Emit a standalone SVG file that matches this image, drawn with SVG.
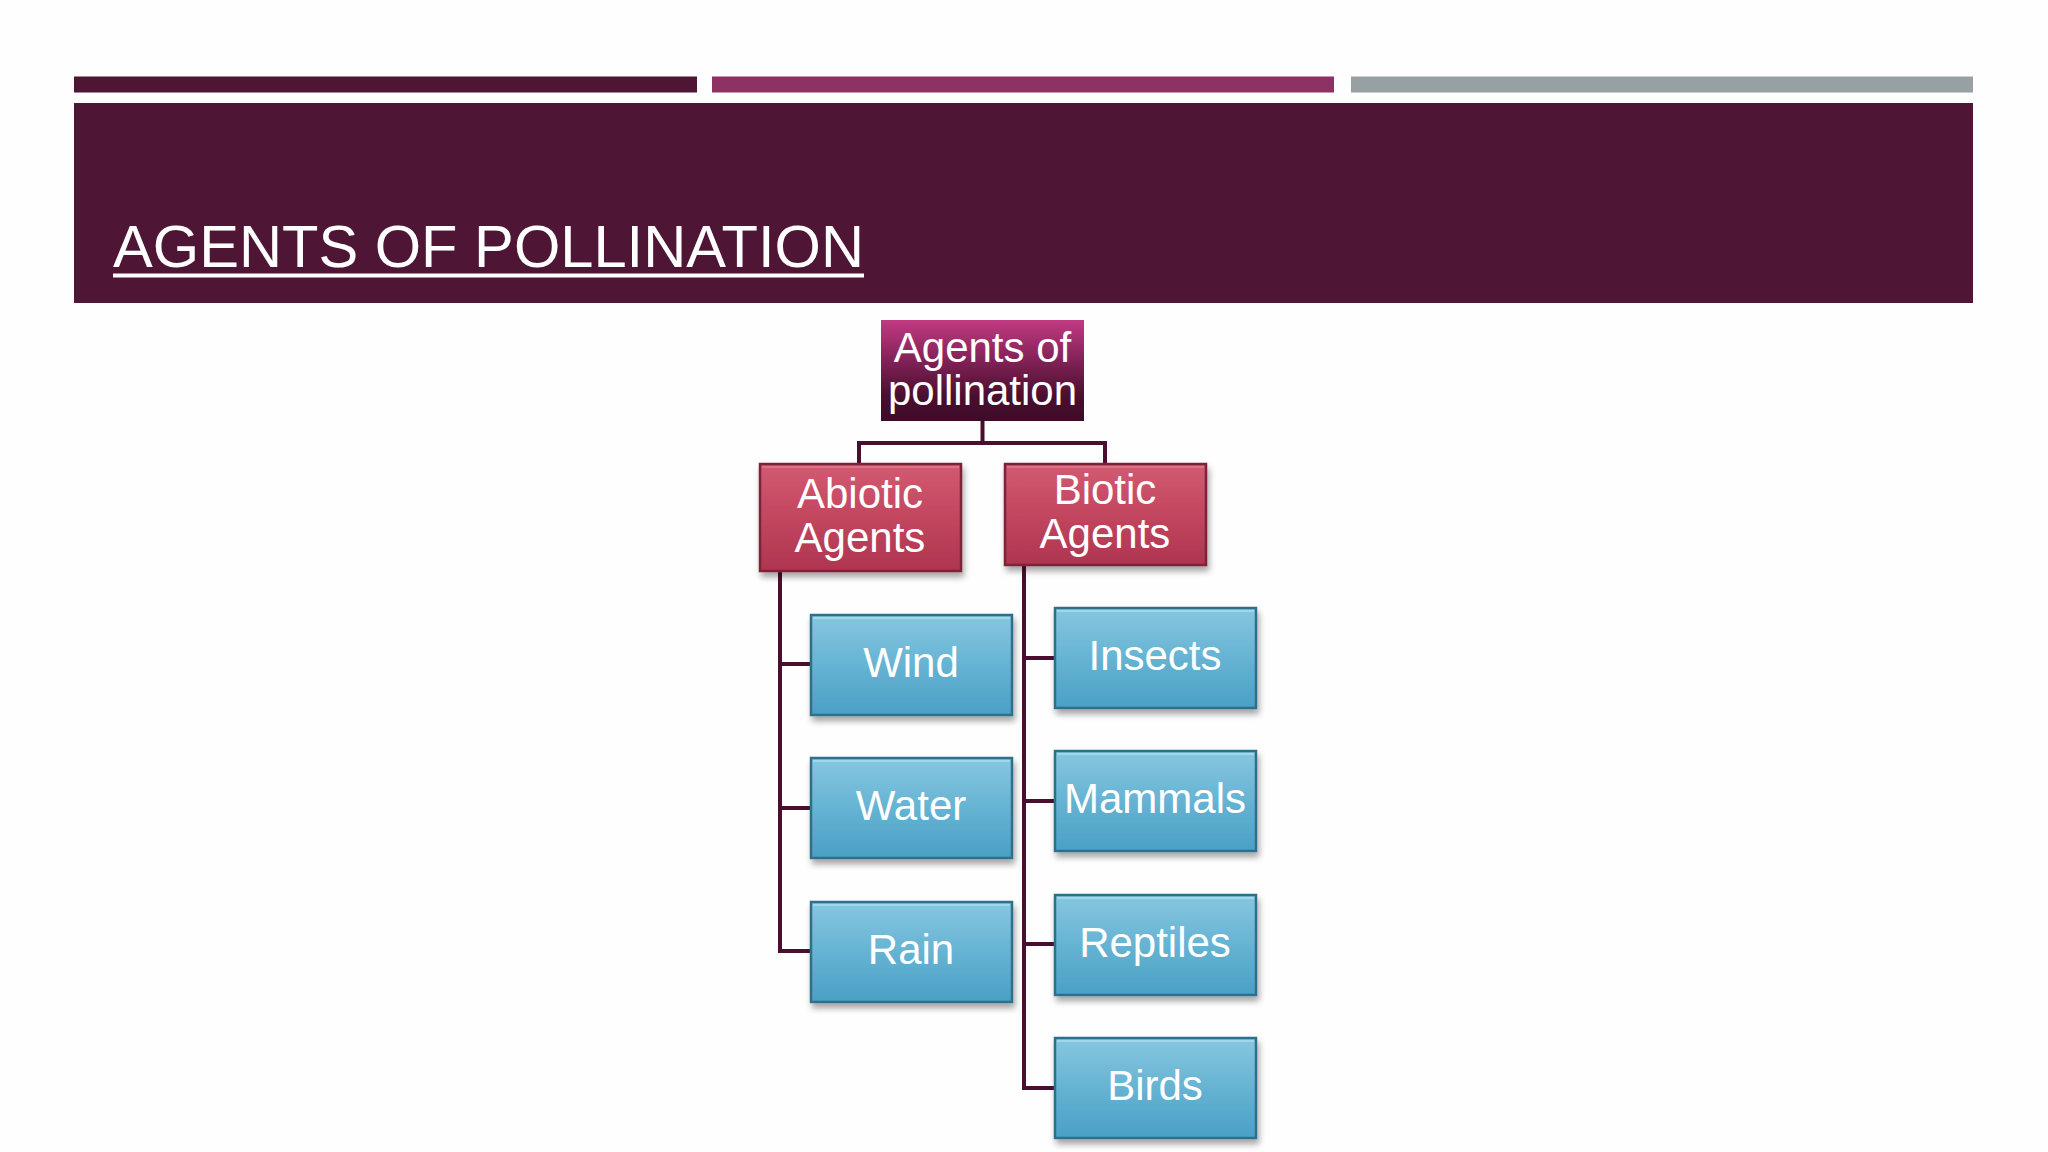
<svg xmlns="http://www.w3.org/2000/svg" width="2048" height="1152" viewBox="0 0 2048 1152">
  <defs>
    <linearGradient id="gRoot" x1="0" y1="0" x2="0" y2="1">
      <stop offset="0" stop-color="#c13a82"/>
      <stop offset="0.45" stop-color="#7a1f52"/>
      <stop offset="0.75" stop-color="#4a0f2e"/>
      <stop offset="1" stop-color="#3e0b27"/>
    </linearGradient>
    <linearGradient id="gRed" x1="0" y1="0" x2="0" y2="1">
      <stop offset="0" stop-color="#d35a72"/>
      <stop offset="0.5" stop-color="#c2465f"/>
      <stop offset="1" stop-color="#ae3550"/>
    </linearGradient>
    <linearGradient id="gBlue" x1="0" y1="0" x2="0" y2="1">
      <stop offset="0" stop-color="#86c7e0"/>
      <stop offset="0.5" stop-color="#66b3d3"/>
      <stop offset="1" stop-color="#4aa0c6"/>
    </linearGradient>
    <filter id="shadow" x="-10%" y="-10%" width="125%" height="135%">
      <feGaussianBlur in="SourceAlpha" stdDeviation="3"/>
      <feOffset dx="2" dy="5" result="o"/>
      <feComponentTransfer><feFuncA type="linear" slope="0.35"/></feComponentTransfer>
      <feMerge><feMergeNode/><feMergeNode in="SourceGraphic"/></feMerge>
    </filter>
  </defs>
  <style>
    .lbl { font-family: "Liberation Sans", Arial, sans-serif; font-size: 42px; fill: #ffffff; text-anchor: middle; }
    .red { fill: url(#gRed); stroke: #7e2238; stroke-width: 2.5; filter: url(#shadow); }
    .blue { fill: url(#gBlue); stroke: #2f6f8a; stroke-width: 2.5; filter: url(#shadow); }
    .hl { stroke: #a9dbee; stroke-width: 2; opacity: 0.8; }
    .hlr { stroke: #e07d90; stroke-width: 2; opacity: 0.7; }
    .conn { stroke: #4a0f2e; stroke-width: 4; fill: none; stroke-linejoin: miter; }
  </style>
  <rect width="2048" height="1152" fill="#fefefe"/>

  <!-- header bars -->
  <rect x="74" y="76.5" width="623" height="16" fill="#4f1535"/>
  <rect x="712" y="76.5" width="622" height="16" fill="#8e3263"/>
  <rect x="1351" y="76.5" width="622" height="16" fill="#97a0a3"/>
  <rect x="74" y="103" width="1899" height="200" fill="#4f1535"/>
  <text x="113" y="266.5" font-family="Liberation Sans, Arial, sans-serif" font-size="58.5" fill="#ffffff" textLength="751" lengthAdjust="spacingAndGlyphs">AGENTS OF POLLINATION</text>
  <rect x="113" y="273.5" width="751" height="4" fill="#ffffff"/>

  <!-- connectors -->
  <g id="connectors">
    <path class="conn" d="M982.5 421 V443 M857 443 H1107 M859 443 V464 M1105 443 V464"/>
    <path class="conn" d="M780 571 V951 H811 M780 664 H811 M780 808 H811"/>
    <path class="conn" d="M1024 565 V1088 H1055 M1024 658 H1055 M1024 801 H1055 M1024 944 H1055"/>
  </g>

  <g id="root">
    <rect x="881" y="320" width="203" height="101" fill="url(#gRoot)"/>
    <text class="lbl" x="982.5" y="362">Agents of</text>
    <text class="lbl" x="982.5" y="405">pollination</text>
  </g>

  <g id="abiotic">
    <rect class="red" x="760" y="464" width="201" height="107"/>
    <line class="hlr" x1="762" y1="467" x2="959" y2="467"/>
    <text class="lbl" x="860" y="508">Abiotic</text>
    <text class="lbl" x="860" y="551.5">Agents</text>
  </g>

  <g id="biotic">
    <rect class="red" x="1005" y="464" width="201" height="101"/>
    <line class="hlr" x1="1007" y1="467" x2="1204" y2="467"/>
    <text class="lbl" x="1105" y="504">Biotic</text>
    <text class="lbl" x="1105" y="548">Agents</text>
  </g>

  <g id="wind">
    <rect class="blue" x="811" y="615" width="201" height="100"/>
    <line class="hl" x1="813" y1="618" x2="1010" y2="618"/>
    <text class="lbl" x="911" y="676.5">Wind</text>
  </g>
  <g id="water">
    <rect class="blue" x="811" y="758" width="201" height="100"/>
    <line class="hl" x1="813" y1="761" x2="1010" y2="761"/>
    <text class="lbl" x="911" y="820">Water</text>
  </g>
  <g id="rain">
    <rect class="blue" x="811" y="902" width="201" height="100"/>
    <line class="hl" x1="813" y1="905" x2="1010" y2="905"/>
    <text class="lbl" x="911" y="964">Rain</text>
  </g>

  <g id="insects">
    <rect class="blue" x="1055" y="608" width="201" height="100"/>
    <line class="hl" x1="1057" y1="611" x2="1254" y2="611"/>
    <text class="lbl" x="1155" y="670">Insects</text>
  </g>
  <g id="mammals">
    <rect class="blue" x="1055" y="751" width="201" height="100"/>
    <line class="hl" x1="1057" y1="754" x2="1254" y2="754"/>
    <text class="lbl" x="1155" y="813">Mammals</text>
  </g>
  <g id="reptiles">
    <rect class="blue" x="1055" y="895" width="201" height="100"/>
    <line class="hl" x1="1057" y1="898" x2="1254" y2="898"/>
    <text class="lbl" x="1155" y="956.5">Reptiles</text>
  </g>
  <g id="birds">
    <rect class="blue" x="1055" y="1038" width="201" height="100"/>
    <line class="hl" x1="1057" y1="1041" x2="1254" y2="1041"/>
    <text class="lbl" x="1155" y="1100">Birds</text>
  </g>
</svg>
